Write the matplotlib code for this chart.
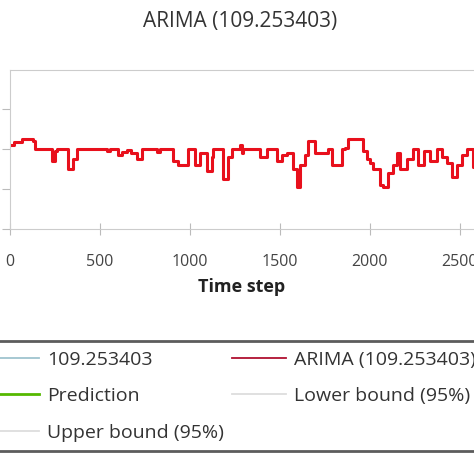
import numpy as np
import matplotlib.pyplot as plt
from matplotlib.lines import Line2D

# breakpoints of the ARIMA series (time step, value)
t = [0, 20, 65, 130, 139, 231, 250, 262, 324, 348, 370, 450, 537, 556, 602, 620, 648, 670, 704, 731,
     760, 815, 833, 898, 907, 935, 991, 1028, 1055, 1093, 1120, 1130, 1185, 1213, 1231, 1278, 1287,
     1296, 1340, 1389, 1426, 1481, 1509, 1537, 1574, 1593, 1611, 1639, 1657, 1694, 1768, 1787, 1843,
     1861, 1880, 1963, 1981, 2000, 2018, 2055, 2074, 2102, 2130, 2148, 2167, 2204, 2241, 2268, 2300,
     2333, 2370, 2400, 2426, 2454, 2481, 2510, 2537, 2574, 2600]
v = [2.1, 2.17, 2.25, 2.2, 2.0, 1.7, 1.95, 2.0, 1.5, 1.75, 2.0, 2.0, 1.95, 2.0, 1.85, 1.92, 1.98, 1.9, 1.75, 2.0,
     2.0, 1.92, 2.0, 2.0, 1.7, 1.6, 2.0, 1.6, 1.9, 1.45, 1.8, 2.0, 1.25, 1.8, 2.0, 2.1, 1.9,
     2.0, 2.0, 1.8, 2.0, 1.7, 1.85, 1.9, 1.5, 1.05, 1.6, 1.85, 2.2, 1.9, 2.0, 1.6, 2.0,
     2.03, 2.25, 1.95, 1.75, 1.65, 1.5, 1.1, 1.05, 1.4, 1.6, 1.9, 1.5, 1.75, 2.0, 1.6, 1.95,
     1.7, 2.0, 1.8, 1.65, 1.3, 1.6, 1.85, 2.0, 1.55, 1.7]

labels = ['109.253403', 'Prediction', 'Upper bound (95%)', 'ARIMA (109.253403)', 'Lower bound (95%)']
colors = ['#9fc4cf', '#55b800', '#dddddd', '#b01030', '#dddddd']

plt.rcParams['font.family'] = ['Open Sans', 'DejaVu Sans']
fig = plt.figure(figsize=(4.74, 4.74), dpi=100)
ax = fig.add_axes([10/474, 1-229/474, 464/474, 159/474])
ax.step(t, v, where='post', color='#e8101c', lw=2.2)
ax.set_xlim(0, 2578)
ax.set_ylim(0, 3.97)
ax.set_yticks([0, 1, 2, 3])
ax.set_yticklabels([])
ax.set_xticks(np.arange(0, 2501, 500))
ax.tick_params(axis='x', direction='inout', length=8, colors='#bbbbbb', labelcolor='#444444', labelsize=11.5, pad=14)
ax.tick_params(axis='y', direction='out', length=6, colors='#bbbbbb')
ax.spines['right'].set_visible(False)
for s in ['left', 'bottom', 'top']:
    ax.spines[s].set_color('#cccccc')
ax.set_xlabel('Time step', fontsize=13, fontweight='bold', color='#222222', labelpad=6)
fig.text(240/474, 1-22/474, 'ARIMA (109.253403)', ha='center', va='center', fontsize=15, color='#333333')

handles = [Line2D([], [], color=c, lw=2 if c == '#55b800' else 1.3) for c in colors]
leg = fig.legend(handles, labels, ncol=2, loc='upper left', bbox_to_anchor=(-25/474, 1-341/474),
                 fontsize=14, handlelength=2.8, handletextpad=0.4, columnspacing=0.4, labelspacing=0.95,
                 fancybox=False, edgecolor='#333333', borderaxespad=0, borderpad=0.5)
leg.get_frame().set_linewidth(2)
for tx in leg.get_texts():
    tx.set_color('#333333')
fig.savefig('out.png', dpi=100)
